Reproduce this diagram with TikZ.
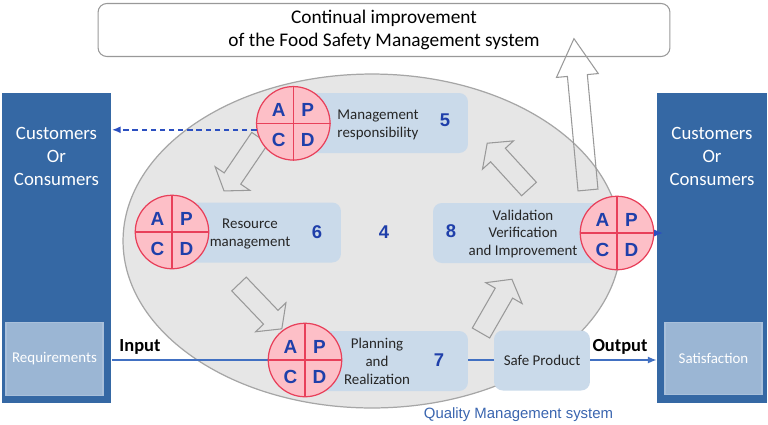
\documentclass[tikz,border=0pt]{standalone}
\usepackage{fontspec}
\setmainfont{Carlito}
\newfontfamily\arialfont{Liberation Sans}
\usepackage{tikz}
\usetikzlibrary{arrows.meta,shapes.geometric}
\definecolor{custblue}{HTML}{3568A4}
\definecolor{subblue}{HTML}{9BB6D4}
\definecolor{subedge}{HTML}{A9C0DB}
\definecolor{stageblue}{HTML}{CADAEA}
\definecolor{qmsgray}{HTML}{E6E6E6}
\definecolor{pdcapink}{HTML}{FDBFC7}
\definecolor{pdcared}{HTML}{E8405A}
\definecolor{pdcatext}{HTML}{1F3FAA}
\definecolor{flowblue}{HTML}{4170C2}
\definecolor{dashblue}{HTML}{2B4FC0}

% PDCA wheel: name, x, y
\newcommand{\pdca}[3]{%
  \node[pdcac] (#1) at (#2,#3) {};
  \draw[pdcaline] (#1.north) -- (#1.south);
  \draw[pdcaline] (#1.west) -- (#1.east);
  \node[pdcal] (#1a) at (#2-14.5,#3-13.5) {A};
  \node[pdcal] (#1p) at (#2+14.5,#3-13.5) {P};
  \node[pdcal] (#1c) at (#2-14.5,#3+16.5) {C};
  \node[pdcal] (#1d) at (#2+14.5,#3+16.5) {D};
}
% hollow block arrow: tail x, tail y, angle, length, head length
\newcommand{\fatarrow}[5]{%
  \draw[hollowarr, shift={(#1,#2)}, rotate=#3]
    (0,-10) -- (#4-#5,-10) -- (#4-#5,-21) -- (#4,0) -- (#4-#5,21)
    -- (#4-#5,10) -- (0,10) -- cycle;
}

\begin{document}
\begin{tikzpicture}[x=0.02cm, y=-0.02cm,
  custbox/.style={fill=custblue, minimum width=2.2cm, minimum height=6.2cm, inner sep=0},
  subbox/.style={fill=subblue, draw=subedge, line width=0.6pt, minimum width=1.94cm,
    minimum height=1.45cm, text=white, font=\fontsize{8.5}{10}\selectfont},
  custtext/.style={text=white, align=center, font=\fontsize{10.7}{13.1}\selectfont},
  stagebox/.style={fill=stageblue, rounded corners=5pt, minimum height=1.2cm, inner sep=0},
  stagetext/.style={align=center, text=black!85, font=\fontsize{8.5}{10.2}\selectfont},
  stagenum/.style={text=pdcatext, inner sep=0, font=\arialfont\bfseries\fontsize{10.5}{12}\selectfont},
  pdcac/.style={circle, draw=pdcared, fill=pdcapink, line width=0.7pt, minimum size=1.47cm, inner sep=0},
  pdcaline/.style={draw=pdcared, line width=0.7pt},
  pdcal/.style={text=pdcatext, inner sep=0, font=\arialfont\bfseries\fontsize{10.8}{12}\selectfont},
  hollowarr/.style={draw=black!40, line width=0.6pt, line join=miter},
  flow/.style={draw=flowblue, line width=0.8pt, -{Latex[length=5pt,width=4pt]}}]
  \useasboundingbox (0,0) rectangle (768,424);

  % quality management system
  \node[ellipse, draw=black!35, fill=qmsgray, line width=0.7pt,
    minimum width=9.96cm, minimum height=6.68cm, inner sep=0] (qms) at (372,241) {};
  \node[draw=black!40, rounded corners=5pt, line width=0.6pt, minimum width=11.44cm,
    minimum height=1.06cm, align=center, font=\fontsize{11}{13}\selectfont] (cibox) at (384,30)
    {Continual improvement\\of the Food Safety Management system};

  % customers
  \node[custbox] (lbox) at (56.5,248) {};
  \node[custbox] (rbox) at (712,248) {};
  \node[subbox] (req) at (54.5,359) {Requirements};
  \node[subbox] (sat) at (713.5,358.5) {Satisfaction};
  \node[custtext] (lcust) at (56.5,156) {Customers\\Or\\Consumers};
  \node[custtext] (rcust) at (712,156) {Customers\\Or\\Consumers};

  \draw[flow] (lbox.east |- 0,360) -- (rbox.west |- 0,360);

  % improvement cycle
  \fatarrow{260}{138}{-124.2}{64}{15}
  \fatarrow{239}{284}{-46.3}{62}{16}
  \fatarrow{481}{333}{60.1}{62}{16}
  \fatarrow{529}{189}{132.4}{62}{16}
  \fatarrow{588}{190}{95.3}{152}{37}

  \node[stagebox, minimum width=3.5cm] (b5) at (380.5,123) {};
  \node[stagebox, minimum width=3.38cm] (b6) at (256.5,232.5) {};
  \node[stagebox, minimum width=3.68cm] (b8) at (525,233) {};
  \node[stagebox, minimum width=3.26cm] (b7) at (386.5,361) {};
  \node[stagebox, minimum width=1.92cm, stagetext] (safe) at (542,360.5) {Safe Product};

  \pdca{c5}{293.3}{123.3}
  \pdca{c6}{172}{232}
  \pdca{c8}{617}{233}
  \pdca{c7}{305}{360}

  \node[stagetext] (t5) at (378,124.5) {Management\\responsibility};
  \node[stagetext] (t6) at (250,234) {Resource\\management};
  \node[stagetext] (t8) at (523,234) {Validation\\Verification\\and Improvement};
  \node[stagetext] (t7) at (377,361) {Planning\\and\\Realization};
  \node[stagenum] (n5) at (445,120) {5};
  \node[stagenum] (n6) at (317,232) {6};
  \node[stagenum] (n4) at (384,232) {4};
  \node[stagenum] (n8) at (451,231) {8};
  \node[stagenum] (n7) at (439,360) {7};

  \node[font=\bfseries\fontsize{10.5}{12}\selectfont] (inp) at (140,347) {Input};
  \node[font=\bfseries\fontsize{10.5}{12}\selectfont] (outp) at (620,347) {Output};
  \node[text=flowblue!90!black, font=\arialfont\fontsize{8.5}{10}\selectfont] (qmslab) at (518.5,415)
    {Quality Management system};

  \draw[flow, draw=dashblue, line width=1pt, dash pattern=on 3pt off 2.2pt] (c5.190) -- (lbox.east |- c5.190);
  \coordinate (c8tip) at (663,233);
  \draw[flow, draw=dashblue] (c8.east) -- (c8tip);
\end{tikzpicture}
\end{document}
